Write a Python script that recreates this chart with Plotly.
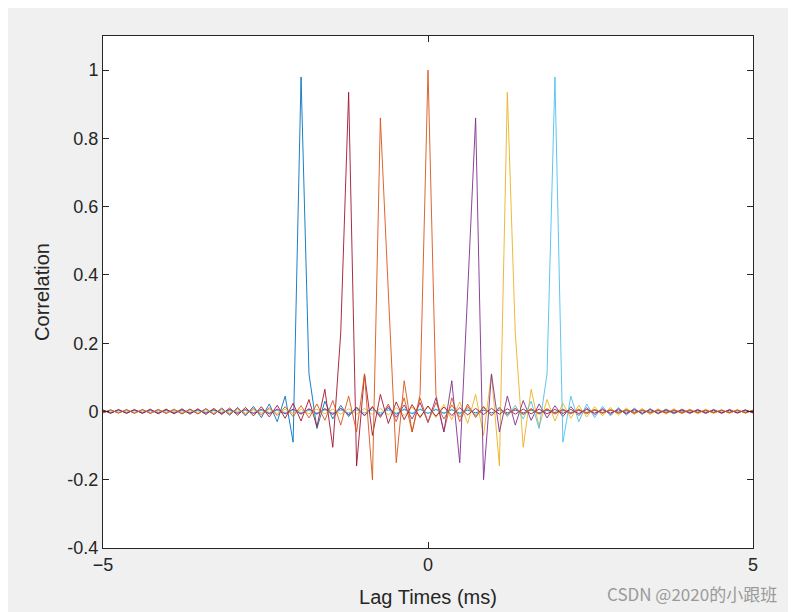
import plotly.graph_objects as go

dt = 1 / 8.192  # ms per lag step
lag_index = list(range(-41, 42))

blue = [
-0.004,0.004,-0.004,0.004,-0.004,0.005,-0.005,0.005,-0.005,0.005,
-0.007,0.007,-0.007,0.008,-0.009,0.010,-0.011,0.012,-0.013,0.015,
-0.018,0.022,-0.030,0.045,-0.090,0.980,0.110,-0.050,0.030,-0.022,
0.018,-0.015,0.013,-0.012,0.011,-0.010,0.009,-0.008,0.007,-0.007,
0.007,-0.006,0.006,-0.005,0.005,-0.005,0.004,-0.004,0.004,-0.004,
0.004,-0.004,0.004,-0.004,0.004,-0.004,0.003,-0.003,0.003,-0.003,
0.003,-0.003,0.003,-0.003,0.003,-0.002,0.002,-0.002,0.002,-0.002,
0.002,-0.002,0.002,-0.002,0.002,-0.002,0.002,-0.002,0.002,-0.002,
0.002,-0.002,0.002]

orange_c = [
0.003,-0.003,0.003,-0.003,0.003,-0.003,0.003,-0.003,0.003,-0.003,
0.003,-0.004,0.004,-0.004,0.004,-0.004,0.004,-0.004,0.004,-0.005,
0.005,-0.005,0.005,-0.006,0.006,-0.006,0.007,-0.007,0.008,-0.008,
0.009,-0.010,0.011,-0.013,0.015,-0.018,0.022,-0.030,0.040,-0.060,
0.050,1.000,0.050,-0.060,0.040,-0.030,0.022,-0.018,0.015,-0.013,
0.011,-0.010,0.009,-0.008,0.008,-0.007,0.007,-0.006,0.006,-0.006,
0.005,-0.005,0.005,-0.004,0.004,-0.004,0.004,-0.004,0.004,-0.004,
0.004,-0.004,0.003,-0.003,0.003,-0.003,0.003,-0.003,0.003,-0.003,
0.003,-0.003,0.003]

yellow = [
-0.004,0.004,-0.004,
0.004,-0.004,0.004,-0.004,0.004,-0.004,0.004,-0.004,0.004,-0.005,
0.005,-0.005,0.005,-0.005,0.005,-0.005,0.005,-0.005,0.006,-0.006,
0.006,-0.006,0.006,-0.007,0.007,-0.007,0.007,-0.008,0.008,-0.008,
0.009,-0.009,0.009,-0.010,0.011,-0.012,0.013,-0.014,0.016,-0.018,
0.020,-0.024,0.028,-0.035,0.050,-0.070,0.110,-0.160,0.935,0.230,
-0.105,0.065,-0.045,0.035,-0.028,0.024,-0.020,0.018,-0.016,0.014,
-0.013,0.012,-0.011,0.010,-0.009,0.009,-0.009,0.008,-0.008,0.008,
-0.007,0.007,-0.007,0.007,-0.006,0.006,-0.006,0.006,-0.006,0.005]

purple = [
0.004,-0.004,0.004,
-0.004,0.004,-0.004,0.004,-0.005,0.005,-0.005,0.005,-0.005,0.005,
-0.005,0.005,-0.006,0.006,-0.006,0.006,-0.006,0.006,-0.007,0.007,
-0.007,0.007,-0.008,0.008,-0.008,0.008,-0.009,0.009,-0.009,0.010,
-0.011,0.012,-0.014,0.015,-0.017,0.019,-0.022,0.026,-0.032,0.040,
-0.060,0.090,-0.150,0.350,0.860,-0.200,0.110,-0.060,0.045,-0.040,
0.032,-0.026,0.022,-0.019,0.017,-0.015,0.014,-0.012,0.011,-0.010,
0.009,-0.009,0.009,-0.008,0.008,-0.008,0.008,-0.007,0.007,-0.007,
0.007,-0.006,0.006,-0.006,0.006,-0.006,0.006,-0.005,0.005,-0.005]

light_blue = [
0.002,-0.002,0.002,
-0.002,0.002,-0.002,0.002,-0.002,0.002,-0.002,0.002,-0.002,0.002,
-0.002,0.002,-0.002,0.002,-0.002,0.003,-0.003,0.003,-0.003,0.003,
-0.003,0.003,-0.003,0.003,-0.004,0.004,-0.004,0.004,-0.004,0.004,
-0.004,0.004,-0.004,0.004,-0.005,0.005,-0.005,0.006,-0.006,0.007,
-0.007,0.007,-0.008,0.009,-0.010,0.011,-0.012,0.013,-0.015,0.018,
-0.022,0.030,-0.050,0.110,0.980,-0.090,0.045,-0.030,0.022,-0.018,
0.015,-0.013,0.012,-0.011,0.010,-0.009,0.008,-0.007,0.007,-0.007,
0.005,-0.005,0.005,-0.005,0.005,-0.004,0.004,-0.004,0.004,-0.004]

dark_red = [
0.005,-0.006,0.006,-0.006,0.006,-0.006,0.007,-0.007,0.007,-0.007,
0.008,-0.008,0.008,-0.009,0.009,-0.009,0.010,-0.011,0.012,-0.013,
0.014,-0.016,0.018,-0.020,0.024,-0.028,0.035,-0.045,0.065,-0.105,
0.230,0.935,-0.160,0.110,-0.070,0.050,-0.035,0.028,-0.024,0.020,
-0.018,0.016,-0.014,0.013,-0.012,0.011,-0.010,0.009,-0.009,0.009,
-0.008,0.008,-0.008,0.007,-0.007,0.007,-0.007,0.006,-0.006,0.006,
-0.006,0.006,-0.005,0.005,-0.005,0.005,-0.005,0.005,-0.005,0.005,
-0.005,0.004,-0.004,0.004,-0.004,0.004,-0.004,0.004,-0.004,0.004,
-0.004,0.004,-0.004]

orange_l = [
-0.005,0.005,-0.005,0.006,-0.006,0.006,-0.006,0.006,-0.006,0.007,
-0.007,0.007,-0.007,0.008,-0.008,0.008,-0.008,0.009,-0.009,0.009,
-0.010,0.011,-0.012,0.014,-0.015,0.017,-0.019,0.022,-0.026,0.032,
-0.040,0.045,-0.060,0.110,-0.200,0.860,0.350,-0.150,0.090,-0.060,
0.040,-0.032,0.026,-0.022,0.019,-0.017,0.015,-0.014,0.012,-0.011,
0.010,-0.009,0.009,-0.009,0.008,-0.008,0.008,-0.008,0.007,-0.007,
0.007,-0.007,0.006,-0.006,0.006,-0.006,0.006,-0.006,0.005,-0.005,
0.005,-0.005,0.005,-0.005,0.005,-0.004,0.004,-0.004,0.004,-0.004,
0.004,-0.004,0.004]

series = [
    (blue, "#0072BD"),
    (orange_c, "#D95319"),
    (yellow, "#EDB120"),
    (purple, "#7E2F8E"),
    (light_blue, "#4DBEEE"),
    (dark_red, "#A2142F"),
    (orange_l, "#D95319"),
]

lags = [k * dt for k in lag_index]
fig = go.Figure()
for vals, col in series:
    assert len(vals) == 83
    fig.add_trace(go.Scatter(x=lags, y=vals, mode="lines",
                             line=dict(color=col, width=0.9), showlegend=False))

font = dict(family="Liberation Sans, Arial", size=18, color="#262626")
ax = dict(showline=True, linecolor="#262626", linewidth=1, mirror="ticks",
          ticks="inside", ticklen=6, tickcolor="#262626", showgrid=False,
          zeroline=False, tickfont=font, automargin=False)
fig.update_layout(
    width=788, height=604,
    paper_bgcolor="#f0f0f0", plot_bgcolor="white",
    margin=dict(l=95, r=43, t=28, b=64, pad=0),
    xaxis=dict(ax, range=[-5, 5], tickvals=[-5, 0, 5],
               title=dict(text="Lag Times (ms)", font=dict(font, size=20), standoff=16)),
    yaxis=dict(ax, range=[-0.4, 1.1], tickvals=[-0.4, -0.2, 0, 0.2, 0.4, 0.6, 0.8, 1],
               ticktext=["-0.4", "-0.2", "0", "0.2", "0.4", "0.6", "0.8", "1"],
               title=dict(text="Correlation", font=dict(font, size=20), standoff=12)),
    annotations=[dict(text="CSDN @2020的小跟班", xref="paper", yref="paper",
                      x=1.04, y=-0.088, xanchor="right", yanchor="middle", showarrow=False,
                      font=dict(family="Noto Sans CJK SC", size=17, color="#9a9a9a"))],
)
fig.write_html("out.html")
